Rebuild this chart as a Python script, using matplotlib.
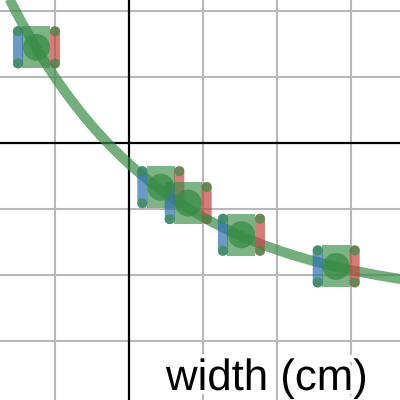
import numpy as np
import matplotlib
matplotlib.use("Agg")
import matplotlib.pyplot as plt
from matplotlib import transforms
from matplotlib.patches import FancyBboxPatch, Circle
import matplotlib.patheffects as pe

# measured points (grid units)
xs = [-1.25, 0.43, 0.80, 1.52, 2.80]
ys = [1.45, -0.67, -0.91, -1.39, -1.87]

# fitted curve y = a * exp(-k x) + c
curve_a = 2.10
curve_k = 0.485
curve_c = -2.415

x_label = "width (cm)"

green = "#388c46"
blue = "#2d70b3"
red = "#c74440"

fig = plt.figure(figsize=(4, 4), dpi=100)
ax = fig.add_axes([0, 0, 1, 1])
ax.set_xlim(-1.743, 3.662)
ax.set_ylim(-3.894, 2.167)
for s in ax.spines.values():
    s.set_visible(False)
ax.set_xticks([])
ax.set_yticks([])

for gx in range(-1, 4):
    if gx != 0:
        ax.axvline(gx, color="#b8b8b8", lw=1.5, zorder=0)
for gy in range(-3, 3):
    if gy != 0:
        ax.axhline(gy, color="#b8b8b8", lw=1.5, zorder=0)
ax.axvline(0, color="black", lw=1.6, zorder=1)
ax.axhline(0, color="black", lw=1.6, zorder=1)

cx = np.linspace(-1.8, 3.7, 300)
ax.plot(cx, curve_a * np.exp(-curve_k * cx) + curve_c, color=green, lw=7.2,
        alpha=0.7, solid_capstyle="butt", zorder=2)


def px(v):
    return v / 100.0


for x, y in zip(xs, ys):
    tr = fig.dpi_scale_trans + transforms.ScaledTranslation(x, y, ax.transData)
    ax.add_patch(FancyBboxPatch((px(-14), px(-21)), px(28), px(42),
                                boxstyle="square,pad=0", fc=green, ec="none",
                                alpha=0.65, transform=tr, zorder=3))
    for bx, col in [(-18.5, blue), (18.5, red)]:
        ax.add_patch(FancyBboxPatch((px(bx - 5), px(-21)), px(10), px(42),
                                    boxstyle="round,pad=0,rounding_size=0.05",
                                    fc=col, ec="none", alpha=0.7,
                                    transform=tr, zorder=3))
        for by in (-16, 16):
            ax.add_patch(Circle((px(bx), px(by)), px(5), fc=green, ec="none",
                                alpha=0.7, transform=tr, zorder=4))
    ax.add_patch(Circle((0, 0), px(13.5), fc=green, ec="none", alpha=0.75,
                        transform=tr, zorder=4))

fig.text(166 / 400, 10 / 400, x_label, fontsize=31.5, family="Liberation Sans",
         ha="left", va="baseline", color="black", zorder=10,
         path_effects=[pe.withStroke(linewidth=6, foreground="white")])

fig.savefig("out.png", dpi=100)
